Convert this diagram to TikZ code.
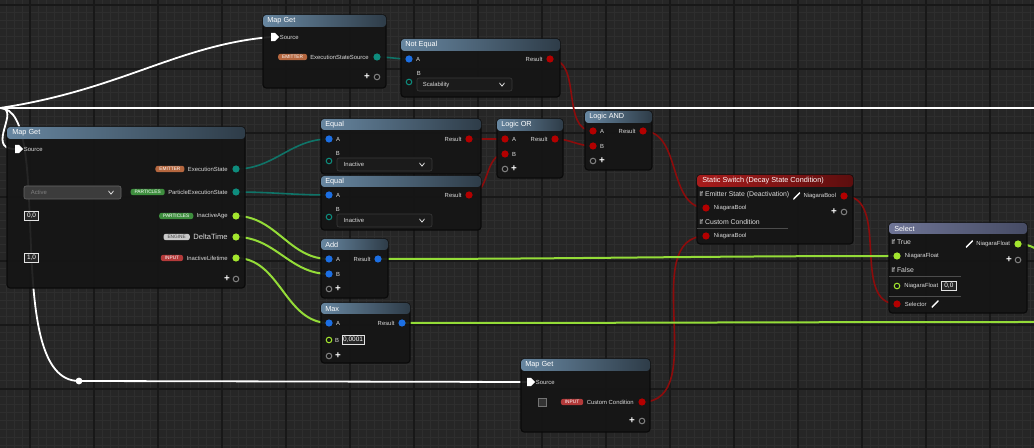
\documentclass[tikz,border=0pt]{standalone}
\usepackage{fontspec}
\setmainfont{Liberation Sans}
\usepackage{tikz}
\usetikzlibrary{positioning,fit,shapes.symbols}
\usepackage{xcolor}
\definecolor{canvas}{HTML}{262626}
\definecolor{gridmin}{HTML}{2E2E2E}
\definecolor{gridmaj}{HTML}{181818}
\definecolor{nodebg}{HTML}{151515}
\definecolor{nodeedge}{HTML}{0A0A0A}
\definecolor{barL}{HTML}{6786A0}
\definecolor{barR}{HTML}{2E3C48}
\definecolor{ssL}{HTML}{A81C1C}
\definecolor{ssR}{HTML}{5C0E0E}
\definecolor{selL}{HTML}{6F7596}
\definecolor{selR}{HTML}{464B64}
\definecolor{txt}{HTML}{DCDCDC}
\definecolor{pinteal}{HTML}{0E8C7D}
\definecolor{pinblue}{HTML}{1C6FE3}
\definecolor{pinred}{HTML}{B40000}
\definecolor{pinlime}{HTML}{A3E62E}
\definecolor{wteal}{HTML}{0F7468}
\definecolor{wred}{HTML}{8C0C0C}
\definecolor{wlime}{HTML}{94DC38}
\definecolor{bEmit}{HTML}{B5673F}
\definecolor{bPart}{HTML}{3E8E3E}
\definecolor{bEng}{HTML}{C9C9C9}
\definecolor{bInp}{HTML}{B33A3A}
\definecolor{ddbg}{HTML}{1B1B1B}
\definecolor{ddedge}{HTML}{3A3A3A}
\definecolor{ddgrey}{HTML}{3C3C3C}
\pgfdeclarelayer{bg}
\pgfdeclarelayer{wires}
\pgfsetlayers{bg,wires,main}

\begin{document}
\begin{tikzpicture}[x=0.25mm,y=-0.25mm,
body/.style={draw=nodeedge, fill=nodebg, fill opacity=0.93, rounded corners=0.8mm, inner sep=0pt, line width=0.3mm},
bar/.style={left color=barL, right color=barR, rounded corners=0.8mm},
ssbar/.style={left color=ssL, right color=ssR, rounded corners=0.8mm},
selbar/.style={left color=selL, right color=selR, rounded corners=0.8mm},
ttl/.style={anchor=west, text=white, inner sep=0pt, font=\fontsize{5.2}{6}\selectfont},
hdr/.style={anchor=west, text=txt, inner sep=0pt, font=\fontsize{4.9}{6}\selectfont},
lbl/.style={text=txt, inner sep=0.4pt, font=\fontsize{4.2}{5}\selectfont},
lbll/.style={lbl, anchor=west},
lblr/.style={lbl, anchor=east},
sock/.style={circle, inner sep=0pt, minimum size=1.8mm, fill=#1},
osock/.style={circle, inner sep=0pt, minimum size=1.4mm, draw=#1, line width=0.25mm},
execpin/.style={signal, signal to=east, fill=white, inner sep=0pt, minimum width=2mm, minimum height=2.1mm},
reroute/.style={circle, fill=white, inner sep=0pt, minimum size=1.7mm},
plusmark/.style={text=white, inner sep=0pt, font=\bfseries\fontsize{7}{7}\selectfont},
badge/.style={rounded corners=0.6mm, fill=#1, text=white, inner xsep=1mm, inner ysep=0.3mm, minimum height=1.6mm, font=\fontsize{3.4}{3.4}\selectfont},
valbox/.style={draw=txt!80, fill=black!85, text=white, inner xsep=0.7pt, inner ysep=0.5pt, minimum width=3.6mm, minimum height=2.3mm, font=\fontsize{4.6}{5}\selectfont},
dropdown/.style={draw=ddedge, fill=ddbg, rounded corners=0.5mm, inner sep=0pt},
chev/.style={minimum width=1.3mm, minimum height=0.8mm, inner sep=0pt, path picture={\draw[txt, line width=0.2mm] (path picture bounding box.north west) -- (path picture bounding box.south) -- (path picture bounding box.north east);}},
pencil/.style={minimum size=1.7mm, inner sep=0pt, path picture={\draw[white, line width=0.35mm] (path picture bounding box.south west) -- (path picture bounding box.north east);}},
sep/.style={draw=black!70, line width=0.2mm},
execw/.style={draw=white, line width=0.45mm},
redw/.style={draw=wred, line width=0.4mm},
limew/.style={draw=wlime, line width=0.5mm},
tealw/.style={draw=wteal, line width=0.4mm}]
\useasboundingbox (0,0) rectangle (1034,448);
% canvas and grid
\begin{pgfonlayer}{bg}
\fill[canvas] (0,0) rectangle (1034,448);
\foreach \gx in {0,...,128} \draw[gridmin, line width=0.25mm] ({6+8*\gx},0) -- ({6+8*\gx},448);
\foreach \gy in {0,...,55} \draw[gridmin, line width=0.25mm] (0,{5+8*\gy}) -- (1034,{5+8*\gy});
\foreach \gx in {30,94,...,990} \draw[gridmaj, line width=0.3mm] (\gx,0) -- (\gx,448);
\foreach \gy in {5,69,...,389} \draw[gridmaj, line width=0.3mm] (0,\gy) -- (1034,\gy);
\end{pgfonlayer}

% top map get
\node[body, fit={(263,15) (386,88)}] (mgTop) {};
\shade[bar] (263,15) rectangle (386,27);
\node[ttl] (mgTopT) at (267,21) {Map Get};
\node[execpin] (mgTopSrc) at (273,37) {};
\node[lbll] (mgTopSrcL) at (279,37) {Source};
\node[sock=pinteal] (mgTopOut) at (377,57) {};
\node[lblr, left=0.9mm of mgTopOut] (mgTopOutL) {ExecutionStateSource};
\node[badge=bEmit, left=0.5mm of mgTopOutL] (mgTopB) {EMITTER};
\node[plusmark] (mgTopP) at (367,77) {+};
\node[osock=gray] (mgTopAdd) at (377,77) {};

% not equal
\node[body, fit={(401,39) (560,97)}] (neq) {};
\shade[bar] (401,39) rectangle (560,51);
\node[ttl] (neqT) at (405,45) {Not Equal};
\node[sock=pinblue] (neqA) at (409,59) {};
\node[lbll, right=0.6mm of neqA] (neqAL) {A};
\node[sock=pinred] (neqRes) at (550,59) {};
\node[lblr, left=0.7mm of neqRes] (neqResL) {Result};
\node[lbll] (neqBL) at (416,73) {B};
\node[osock=pinteal] (neqB) at (409,82) {};
\node[dropdown, fit={(417,78) (512,91)}] (neqDD) {};
\node[lbll] (neqDDL) at (422,84.5) {Scalability};
\node[chev] (neqDDC) at (502,84.5) {};

% main map get
\node[body, fit={(7,127) (245,288)}] (mgMain) {};
\shade[bar] (7,127) rectangle (245,139);
\node[ttl] (mgMainT) at (12,133) {Map Get};
\node[execpin] (mgSrc) at (17,149) {};
\node[lbll] (mgSrcL) at (23,149) {Source};
\node[sock=pinteal] (mgES) at (236,169) {};
\node[lblr, left=0.9mm of mgES] (mgESL) {ExecutionState};
\node[badge=bEmit, left=0.6mm of mgESL] (mgESB) {EMITTER};
\node[dropdown, fill=ddgrey, draw=black!60, fit={(24,186) (121,199)}] (mgDD) {};
\node[lbll, text=gray] (mgDDL) at (30,192.5) {Active};
\node[chev] (mgDDC) at (111,192.5) {};
\node[sock=pinteal] (mgPES) at (236,192) {};
\node[lblr, left=0.9mm of mgPES] (mgPESL) {ParticleExecutionState};
\node[badge=bPart, left=0.6mm of mgPESL] (mgPESB) {PARTICLES};
\node[valbox] (mgVal1) at (31.5,216) {0,0};
\node[sock=pinlime] (mgIA) at (236,216) {};
\node[lblr, left=0.9mm of mgIA] (mgIAL) {InactiveAge};
\node[badge=bPart, left=0.6mm of mgIAL] (mgIAB) {PARTICLES};
\node[sock=pinlime] (mgDT) at (236,237) {};
\node[lblr, font=\fontsize{5.4}{6}\selectfont, left=0.9mm of mgDT] (mgDTL) {DeltaTime};
\node[badge=bEng, text=black!75, left=0.6mm of mgDTL] (mgDTB) {ENGINE};
\node[valbox] (mgVal2) at (31.5,258) {1,0};
\node[sock=pinlime] (mgIL) at (236,258) {};
\node[lblr, left=0.9mm of mgIL] (mgILL) {InactiveLifetime};
\node[badge=bInp, left=0.6mm of mgILL] (mgILB) {INPUT};
\node[plusmark] (mgMainP) at (227,279) {+};
\node[osock=gray] (mgMainAdd) at (236,279) {};

% equal nodes
\node[body, fit={(321,119) (481,174)}] (eqA) {};
\shade[bar] (321,119) rectangle (481,130);
\node[ttl] (eqAT) at (325,125) {Equal};
\node[sock=pinblue] (eqAin) at (329,139) {};
\node[lbll, right=0.6mm of eqAin] (eqAinL) {A};
\node[sock=pinred] (eqAres) at (469,139) {};
\node[lblr, left=0.7mm of eqAres] (eqAresL) {Result};
\node[lbll] (eqABL) at (335,153) {B};
\node[osock=pinteal] (eqAB) at (329,161) {};
\node[dropdown, fit={(337,158) (432,171)}] (eqADD) {};
\node[lbll] (eqADDL) at (343,164.5) {Inactive};
\node[chev] (eqADDC) at (422,164.5) {};
\node[body, fit={(321,176) (481,230)}] (eqB) {};
\shade[bar] (321,176) rectangle (481,187);
\node[ttl] (eqBT) at (325,182) {Equal};
\node[sock=pinblue] (eqBin) at (329,195) {};
\node[lbll, right=0.6mm of eqBin] (eqBinL) {A};
\node[sock=pinred] (eqBres) at (469,195) {};
\node[lblr, left=0.7mm of eqBres] (eqBresL) {Result};
\node[lbll] (eqBBL) at (335,209) {B};
\node[osock=pinteal] (eqBB) at (329,217) {};
\node[dropdown, fit={(337,214) (432,227)}] (eqBDD) {};
\node[lbll] (eqBDDL) at (343,220.5) {Inactive};
\node[chev] (eqBDDC) at (422,220.5) {};

% logic or / and
\node[body, fit={(497,119) (563,178)}] (lor) {};
\shade[bar] (497,119) rectangle (563,131);
\node[ttl] (lorT) at (501,125) {Logic OR};
\node[sock=pinred] (lorA) at (505,139) {};
\node[lbll, right=0.6mm of lorA] (lorAL) {A};
\node[sock=pinred] (lorB) at (505,154) {};
\node[lbll, right=0.6mm of lorB] (lorBL) {B};
\node[osock=gray] (lorAdd) at (505,169) {};
\node[plusmark] (lorP) at (514,169) {+};
\node[sock=pinred] (lorRes) at (555,139) {};
\node[lblr, left=0.7mm of lorRes] (lorResL) {Result};
\node[body, fit={(585,111) (652,170)}] (land) {};
\shade[bar] (585,111) rectangle (652,123);
\node[ttl] (landT) at (589,117) {Logic AND};
\node[sock=pinred] (landA) at (593,131) {};
\node[lbll, right=0.6mm of landA] (landAL) {A};
\node[sock=pinred] (landB) at (593,146) {};
\node[lbll, right=0.6mm of landB] (landBL) {B};
\node[osock=gray] (landAdd) at (593,161) {};
\node[plusmark] (landP) at (602,161) {+};
\node[sock=pinred] (landRes) at (643,131) {};
\node[lblr, left=0.7mm of landRes] (landResL) {Result};

% static switch
\node[body, fit={(697,175) (853,244)}] (ssw) {};
\shade[ssbar] (697,175) rectangle (853,187);
\node[ttl] (sswT) at (702,181) {Static Switch (Decay State Condition)};
\node[hdr] (sswH1) at (699,194.5) {If Emitter State (Deactivation)};
\node[sock=pinred] (sswOut) at (844,196) {};
\node[lblr, left=0.8mm of sswOut] (sswOutL) {NiagaraBool};
\node[pencil, left=0.6mm of sswOutL] (sswPen) {};
\node[sock=pinred] (sswIn1) at (706,208) {};
\node[lbll, right=0.8mm of sswIn1] (sswIn1L) {NiagaraBool};
\node[plusmark] (sswP) at (834,212) {+};
\node[osock=gray] (sswAdd) at (844,212) {};
\node[hdr] (sswH2) at (699,222) {If Custom Condition};
\draw[sep] (697,228) -- (788,228);
\node[sock=pinred] (sswIn2) at (706,236) {};
\node[lbll, right=0.8mm of sswIn2] (sswIn2L) {NiagaraBool};

% select
\node[body, fit={(889,223) (1027,313)}] (sel) {};
\shade[selbar] (889,223) rectangle (1027,234);
\node[ttl] (selT) at (894,229) {Select};
\node[hdr] (selH1) at (891,242) {If True};
\node[sock=pinlime] (selOut) at (1018,244) {};
\node[lblr, left=0.8mm of selOut] (selOutL) {NiagaraFloat};
\node[pencil, left=0.6mm of selOutL] (selPen) {};
\node[sock=pinlime] (selT1) at (897,256) {};
\node[lbll, right=0.8mm of selT1] (selT1L) {NiagaraFloat};
\node[plusmark] (selP) at (1009,260) {+};
\node[osock=gray] (selAdd) at (1018,260) {};
\node[hdr] (selH2) at (891,270) {If False};
\draw[sep] (889,276) -- (961,276);
\node[osock=pinlime] (selF1) at (897,286) {};
\node[lbll, right=0.8mm of selF1] (selF1L) {NiagaraFloat};
\node[valbox, right=0.6mm of selF1L] (selVal) {0,0};
\draw[sep] (889,296) -- (961,296);
\node[sock=pinred] (selSel) at (897,304) {};
\node[lbll, right=0.8mm of selSel] (selSelL) {Selector};
\node[pencil, right=1mm of selSelL] (selPen2) {};

% add / max
\node[body, fit={(321,239) (388,298)}] (add) {};
\shade[bar] (321,239) rectangle (388,250);
\node[ttl] (addT) at (325,245) {Add};
\node[sock=pinblue] (addA) at (329,259) {};
\node[lbll, right=0.6mm of addA] (addAL) {A};
\node[sock=pinblue] (addB) at (329,274) {};
\node[lbll, right=0.6mm of addB] (addBL) {B};
\node[osock=gray] (addAdd) at (329,289) {};
\node[plusmark] (addP) at (338,289) {+};
\node[sock=pinblue] (addRes) at (378,259) {};
\node[lblr, left=0.7mm of addRes] (addResL) {Result};
\node[body, fit={(321,303) (410,363)}] (max) {};
\shade[bar] (321,303) rectangle (410,314);
\node[ttl] (maxT) at (325,309) {Max};
\node[sock=pinblue] (maxA) at (329,323) {};
\node[lbll, right=0.6mm of maxA] (maxAL) {A};
\node[osock=pinlime] (maxB) at (329,340) {};
\node[lbll, right=0.5mm of maxB] (maxBL) {B};
\node[valbox, right=0.5mm of maxBL] (maxVal) {0,0001};
\node[osock=gray] (maxAdd) at (329,356) {};
\node[plusmark] (maxP) at (338,356) {+};
\node[sock=pinblue] (maxRes) at (402,323) {};
\node[lblr, left=0.7mm of maxRes] (maxResL) {Result};

% bottom map get
\node[body, fit={(521,359) (650,432)}] (mgBot) {};
\shade[bar] (521,359) rectangle (650,371);
\node[ttl] (mgBotT) at (525,365) {Map Get};
\node[execpin] (mgBotSrc) at (529,382) {};
\node[lbll] (mgBotSrcL) at (535,382) {Source};
\node[draw=black!55, fill=black!80, minimum size=2mm, inner sep=0pt] (mgBotChk) at (542,402) {};
\node[sock=pinred] (mgBotCC) at (642,402) {};
\node[lblr, left=0.9mm of mgBotCC] (mgBotCCL) {Custom Condition};
\node[badge=bInp, left=0.6mm of mgBotCCL] (mgBotB) {INPUT};
\node[plusmark] (mgBotP) at (632,421) {+};
\node[osock=gray] (mgBotAdd) at (642,421) {};
\node[reroute] (knot) at (79,381) {};

% wires
\begin{pgfonlayer}{wires}
\coordinate (execL) at (0,108);
\coordinate (execR) at (1034,108);
\coordinate (maxEnd) at (1034,322);
\coordinate (selEnd) at (1110,340);
\draw[execw] (execL) -- (execR);
\draw[execw] (execL) .. controls +(120,-18) and +(-93,8) .. (mgTopSrc.west);
\draw[execw] (execL) .. controls +(22,0) and +(-30,0) .. (mgSrc.west);
\draw[execw] (execL) .. controls +(56,0) and +(-79,0) .. (knot.center);
\draw[execw] (knot.center) -- (mgBotSrc.west);
\draw[tealw] (mgTopOut.center) to[out=0,in=180] (neqA.center);
\draw[tealw] (mgES.center) to[out=0,in=180] (eqAin.center);
\draw[tealw] (mgPES.center) to[out=0,in=180] (eqBin.center);
\draw[redw] (eqAres.center) to[out=0,in=180] (lorA.center);
\draw[redw] (eqBres.center) to[out=0,in=180] (lorB.center);
\draw[redw] (neqRes.center) to[out=0,in=180] (landA.center);
\draw[redw] (lorRes.center) to[out=0,in=180] (landB.center);
\draw[redw] (landRes.center) to[out=0,in=180] (sswIn1.center);
\draw[redw] (mgBotCC.center) to[out=0,in=180] (sswIn2.center);
\draw[redw] (sswOut.center) to[out=0,in=180] (selSel.center);
\draw[limew] (mgIA.center) to[out=0,in=180] (addA.center);
\draw[limew] (mgDT.center) to[out=0,in=180] (addB.center);
\draw[limew] (mgIL.center) to[out=0,in=180] (maxA.center);
\draw[limew] (addRes.center) to[out=0,in=180] (selT1.center);
\draw[limew] (maxRes.center) to[out=0,in=180] (maxEnd);
\draw[limew] (selOut.center) to[out=0,in=180] (selEnd);
\end{pgfonlayer}
\end{tikzpicture}
\end{document}
